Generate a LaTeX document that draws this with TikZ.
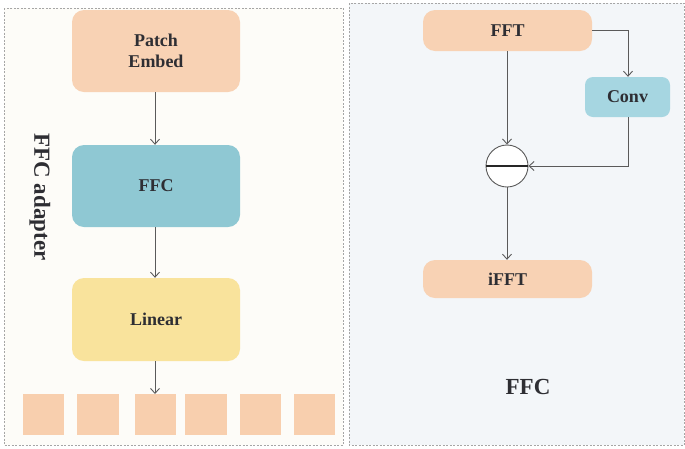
\documentclass[tikz,border=0pt]{standalone}
\usepackage{fontspec}
\setmainfont{Liberation Serif}
\usetikzlibrary{arrows.meta}
\definecolor{peach}{HTML}{F8D2B4}
\definecolor{teal}{HTML}{8FC8D3}
\definecolor{convc}{HTML}{A6D6E1}
\definecolor{yel}{HTML}{F9E39C}
\definecolor{sq}{HTML}{F8CFAE}
\definecolor{lbg}{HTML}{FDFCF8}
\definecolor{rbg}{HTML}{F3F6F9}
\definecolor{txt}{HTML}{2E2E33}
\definecolor{ln}{HTML}{5A5A5A}
\tikzset{
  blk/.style={rounded corners=12pt, draw=none, inner sep=0pt, font=\fontsize{18}{21}\selectfont\bfseries, text=txt, align=center},
  con/.style={draw=ln, line width=0.9pt, -{Straight Barb[length=5pt,width=9pt]}},
  frame/.style={draw=gray!70, dashed, line width=0.6pt, dash pattern=on 2pt off 1.5pt},
}
\begin{document}
\begin{tikzpicture}[x=1pt,y=-1pt]
\useasboundingbox (0,0) rectangle (685,448);
% panels
\fill[lbg] (4,8) rectangle (343,445);
\draw[frame] (4,8) rectangle (343,445);
\fill[rbg] (349,3) rectangle (684,445);
\draw[frame] (349,3) rectangle (684,445);
% left
\node[blk, fill=peach, minimum width=168pt, minimum height=82pt] (pe) at (156,51) {Patch\\Embed};
\node[blk, fill=teal, minimum width=168pt, minimum height=82pt] (ffc) at (156,186) {FFC};
\node[blk, fill=yel, minimum width=168pt, minimum height=83pt] (lin) at (156,319.5) {Linear};
\foreach \i/\a/\b in {1/23/64,2/77/119,3/135/176,4/185/227,5/240/281,6/294/335}{
  \fill[sq] (\a,394) rectangle (\b,435);
}
\coordinate (s3t) at (155,394);
\node[font=\fontsize{23}{25}\selectfont\bfseries, text=txt, rotate=-90] (lab) at (40,197) {FFC adapter};
\draw[con] (pe.south -| 155,0) -- (ffc.north -| 155,0);
\draw[con] (ffc.south -| 155,0) -- (lin.north -| 155,0);
\draw[con] (lin.south -| 155,0) -- (s3t);
% right
\node[blk, fill=peach, minimum width=169pt, minimum height=41pt] (fft) at (507.5,30.5) {FFT};
\node[blk, fill=convc, rounded corners=8pt, minimum width=85pt, minimum height=40pt] (conv) at (627.5,97) {Conv};
\node[draw=ln, line width=0.9pt, circle, minimum size=42pt, inner sep=0pt, fill=white] (mul) at (507,166) {};
\draw[line width=2.2pt, black!85] (mul.west) -- (mul.east);
\node[blk, fill=peach, minimum width=169pt, minimum height=38pt] (ifft) at (507.5,279) {iFFT};
\node[font=\fontsize{23}{25}\selectfont\bfseries, text=txt] (ffcl) at (528,387) {FFC};
\draw[con] (fft.south -| mul.north) -- (mul.north);
\draw[con] (fft.east |- 0,30) -- (628,30) -- (conv.north -| 628,0);
\draw[con] (conv.south -| 628,0) -- (628,166) -- (mul.east);
\draw[con] (mul.south) -- (ifft.north -| mul.south);
\end{tikzpicture}
\end{document}
